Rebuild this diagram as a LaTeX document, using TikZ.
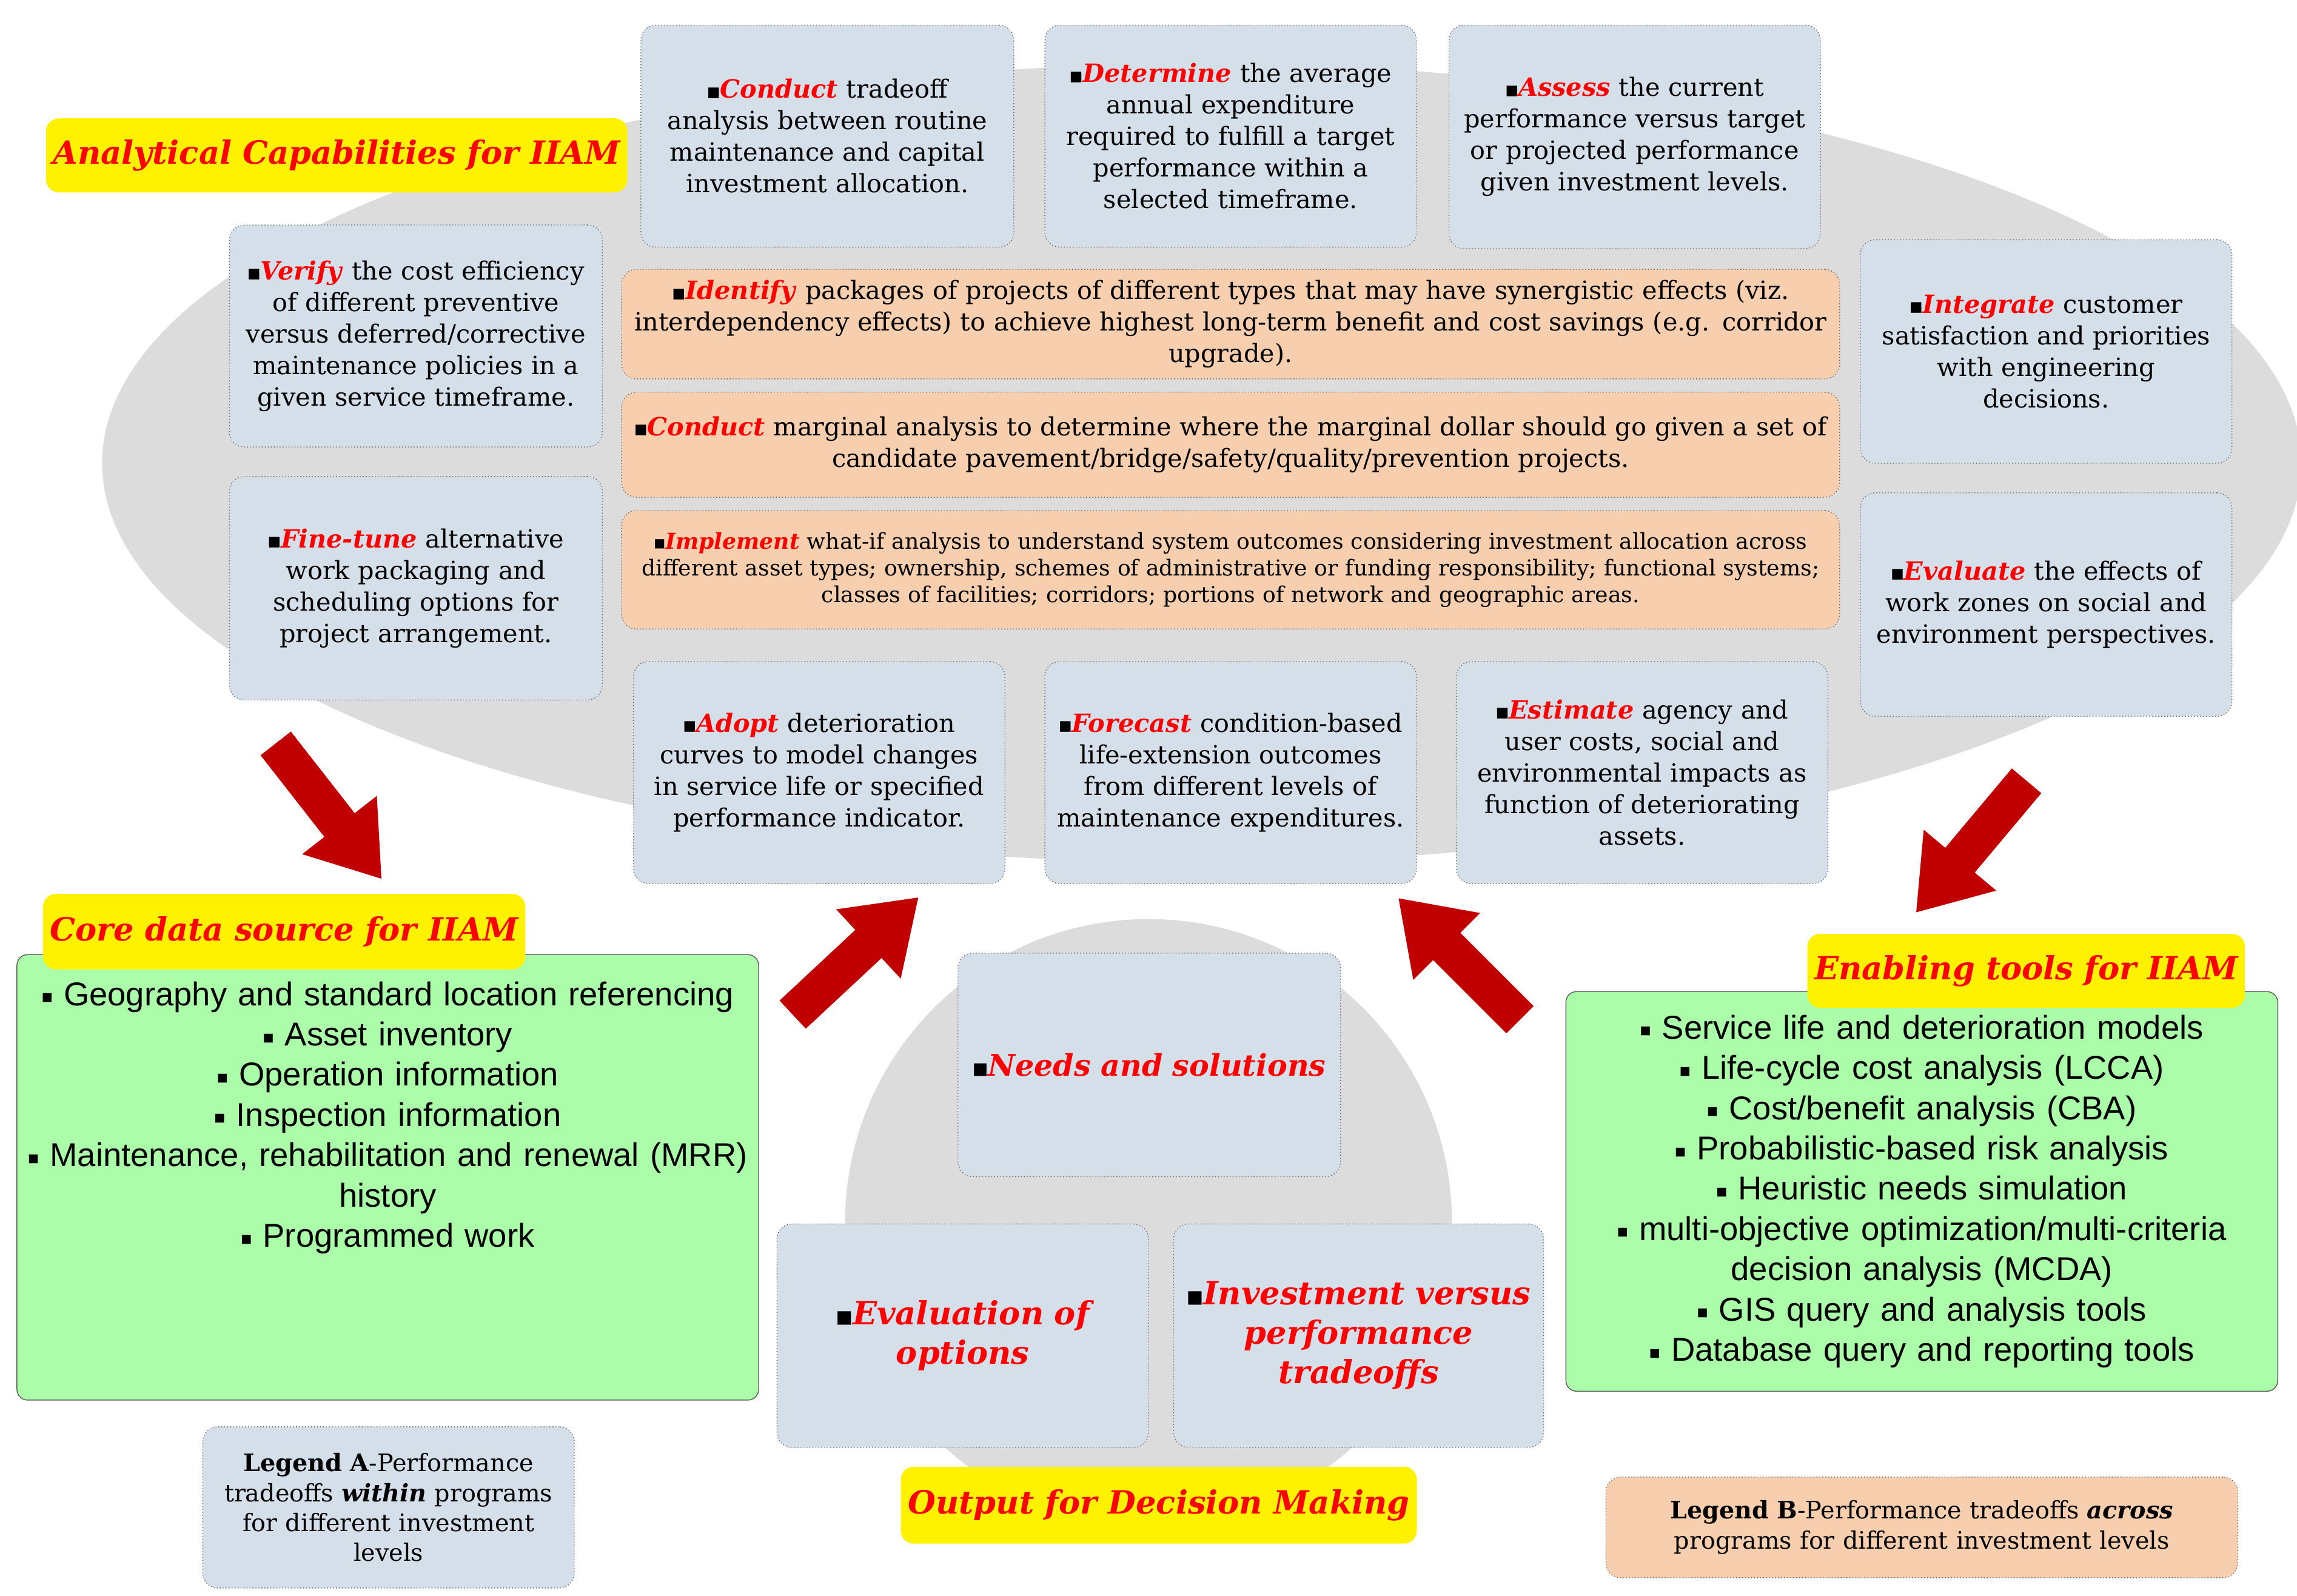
\documentclass[tikz,border=0pt]{standalone}
\usepackage{fontspec}
\setmainfont{DejaVu Serif}
\newfontfamily\arialf{Liberation Sans}
\definecolor{boxblue}{HTML}{D5DFEA}
\definecolor{boxorange}{HTML}{F8CFAE}
\definecolor{boxgreen}{HTML}{ABFDAA}
\definecolor{ellgray}{HTML}{DCDCDC}
\definecolor{arrred}{HTML}{C00000}
\newcommand\kw[1]{\textcolor{red}{\textbf{\textit{#1}}}}
\newcommand\bul{\raisebox{0.12ex}{\scalebox{0.55}{■}}}
\newcommand\mybox[7]{\node[#6, minimum width={(#4-#2)*0.02441cm}, minimum height={(#5-#3)*0.02441cm}] (#1) at ({(#2+#4)/2},{(#3+#5)/2}) {#7};}
\newcommand\bigarr[3]{\fill[arrred, shift={(#1,#2)}, rotate=#3] (-58,-13) -- (12,-13) -- (12,-32) -- (58,0) -- (12,32) -- (12,13) -- (-58,13) -- cycle;}
\tikzset{
 base/.style={rectangle, rounded corners=7pt, draw=gray!80!black, densely dotted, inner sep=3pt,
   execute at begin node={\centering\hyphenpenalty=10000\exhyphenpenalty=10000}},
 bluebox/.style={base, fill=boxblue, text width=5.75cm, font=\fontsize{11.8}{14.8}\selectfont},
 orangebox/.style={base, fill=boxorange, text width=19.7cm, font=\fontsize{11.8}{14.8}\selectfont},
 greenbox/.style={rectangle, rounded corners=5pt, draw=gray!70!black, fill=boxgreen, font=\arialf\fontsize{15.5}{18.9}\selectfont,
   execute at begin node={\centering\hyphenpenalty=10000\exhyphenpenalty=10000}},
 yellowlab/.style={rectangle, rounded corners=6pt, fill=yellow, align=center, font=\fontsize{15}{18}\selectfont\bfseries\itshape\color{red}},
}
\begin{document}
\begin{tikzpicture}[x=0.02441cm, y=-0.02441cm]
\useasboundingbox[fill=white] (0,0) rectangle (1552,1078.3);
\fill[ellgray] (812,313) ellipse [x radius=743, y radius=270];
\fill[ellgray] (776,826) circle [radius=205];

\mybox{b1}{433}{17}{685}{167}{bluebox}{\bul\kw{Conduct} tradeoff analysis between routine maintenance and capital investment allocation.}
\mybox{b2}{706}{17}{957}{167}{bluebox}{\bul\kw{Determine} the average annual expenditure required to fulfill a target performance within a selected timeframe.}
\mybox{b3}{979}{17}{1230}{168}{bluebox}{\bul\kw{Assess} the current performance versus target or projected performance given investment levels.}
\mybox{b4}{155}{152}{407}{302}{bluebox}{\bul\kw{Verify} the cost efficiency of different preventive versus deferred/corrective maintenance policies in a given service timeframe.}
\mybox{b5}{155}{322}{407}{473}{bluebox}{\bul\kw{Fine-tune} alternative work packaging and scheduling options for project arrangement.}
\mybox{b6}{1257}{162}{1508}{313}{bluebox}{\bul\kw{Integrate} customer satisfaction and priorities with engineering decisions.}
\mybox{b7}{1257}{333}{1508}{484}{bluebox}{\bul\kw{Evaluate} the effects of work zones on social and environment perspectives.}
\mybox{b8}{428}{447}{679}{597}{bluebox}{\bul\kw{Adopt} deterioration curves to model changes in service life or specified performance indicator.}
\mybox{b9}{706}{447}{957}{597}{bluebox}{\bul\kw{Forecast} condition-based life-extension outcomes from different levels of maintenance expenditures.}
\mybox{b10}{984}{447}{1235}{597}{bluebox}{\bul\kw{Estimate} agency and user costs, social and environmental impacts as function of deteriorating assets.}

\mybox{o1}{420}{182}{1243}{256}{orangebox}{\bul\kw{Identify} packages of projects of different types that may have synergistic effects (viz. interdependency effects) to achieve highest long-term benefit and cost savings (e.g. corridor upgrade).}
\mybox{o2}{420}{265}{1243}{336}{orangebox}{\bul\kw{Conduct} marginal analysis to determine where the marginal dollar should go given a set of candidate pavement/bridge/safety/quality/prevention projects.}
\mybox{o3}{420}{345}{1243}{425}{orangebox,font=\fontsize{10.3}{12.6}\selectfont}{\bul\kw{Implement} what-if analysis to understand system outcomes considering investment allocation across different asset types; ownership, schemes of administrative or funding responsibility; functional systems; classes of facilities; corridors; portions of network and geographic areas.}

\mybox{n1}{651}{644}{902}{795}{bluebox,text width=6.1cm,font=\fontsize{14}{17}\selectfont}{\bul\kw{Needs and solutions}}
\mybox{n2}{525}{827}{776}{978}{bluebox,font=\fontsize{15}{18.5}\selectfont}{\bul\kw{Evaluation of options}}
\mybox{n3}{793}{827}{1043}{978}{bluebox,font=\fontsize{15}{18.5}\selectfont}{\bul\kw{Investment versus performance tradeoffs}}

\mybox{lga}{137}{964}{388}{1073}{bluebox,font=\fontsize{11.3}{14}\selectfont}{\textbf{Legend A}-Performance tradeoffs \textbf{\textit{within}} programs for different investment levels}
\mybox{lgb}{1085}{998}{1512}{1066}{orangebox,text width=10cm,font=\fontsize{11.3}{14}\selectfont}{\textbf{Legend B}-Performance tradeoffs \textbf{\textit{across}} programs for different investment levels}

\mybox{g1}{13}{645}{511}{946}{greenbox,text width=12.0cm}{\bul{} Geography and standard location referencing\\ \bul{} Asset inventory\\ \bul{} Operation information\\ \bul{} Inspection information\\ \bul{} Maintenance, rehabilitation and renewal (MRR) history\\ \bul{} Programmed work\\[2.6em]\mbox{}}
\mybox{g2}{1058}{670}{1539}{940}{greenbox,text width=11.4cm}{\bul{} Service life and deterioration models\\ \bul{} Life-cycle cost analysis (LCCA)\\ \bul{} Cost/benefit analysis (CBA)\\ \bul{} Probabilistic-based risk analysis\\ \bul{} Heuristic needs simulation\\ \bul{} multi-objective optimization/multi-criteria decision analysis (MCDA)\\ \bul{} GIS query and analysis tools\\ \bul{} Database query and reporting tools}

\mybox{y1}{35}{80}{420}{130}{yellowlab}{Analytical Capabilities for IIAM}
\mybox{y2}{35}{604}{349}{655}{yellowlab}{Core data source for IIAM}
\mybox{y3}{1225}{631}{1513}{681}{yellowlab}{Enabling tools for IIAM}
\mybox{y4}{609}{991}{957}{1043}{yellowlab}{Output for Decision Making}

\bigarr{222}{548}{-52}
\bigarr{578}{646}{43}
\bigarr{986}{648}{135}
\bigarr{1332}{572}{-130}
\end{tikzpicture}
\end{document}
